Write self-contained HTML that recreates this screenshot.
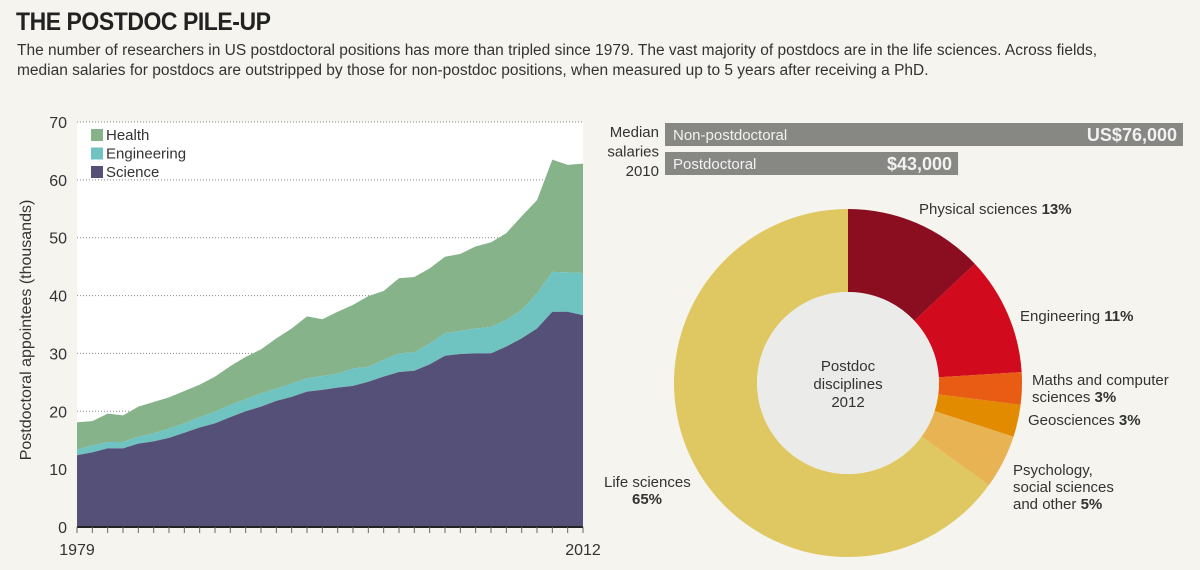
<!DOCTYPE html>
<html><head><meta charset="utf-8">
<style>
body{margin:0;background:#f5f4ee;font-family:"Liberation Sans",sans-serif;}
#root{position:relative;width:1200px;height:570px;overflow:hidden;background:#f5f4ee;}
.t{position:absolute;color:#222;}
</style></head>
<body>
<div id="root">
<div class="t" style="left:16px;top:8px;font-size:25px;font-weight:bold;letter-spacing:-0.5px;transform:scaleX(0.92);transform-origin:left;">THE POSTDOC PILE-UP</div>
<div class="t" style="left:17px;top:41px;width:1130px;font-size:15.5px;line-height:20px;color:#333;">The number of researchers in US postdoctoral positions has more than tripled since 1979. The vast majority of postdocs are in the life sciences. Across fields, median salaries for postdocs are outstripped by those for non-postdoc positions, when measured up to 5 years after receiving a PhD.</div>
<svg id="chart" width="1200" height="570" style="position:absolute;left:0;top:0"></svg>
</div>
<script>
const years=[];for(let y=1979;y<=2012;y++)years.push(y);
const science=[12.4,12.9,13.6,13.6,14.4,14.8,15.4,16.3,17.2,17.9,19.0,20.0,20.8,21.8,22.5,23.4,23.7,24.1,24.4,25.1,26.0,26.8,27.0,28.1,29.6,29.9,30.0,30.0,31.2,32.6,34.3,37.2,37.2,36.6];
const engineering=[1.0,1.2,1.1,1.1,1.2,1.4,1.6,1.6,1.8,2.0,2.1,2.1,2.3,2.1,2.3,2.3,2.4,2.4,3.0,2.6,2.9,3.2,3.2,3.6,3.9,4.0,4.3,4.6,4.6,4.9,6.1,6.9,6.8,7.3];
const health=[4.7,4.2,4.9,4.6,5.2,5.4,5.4,5.6,5.6,6.1,6.7,7.3,7.6,8.7,9.5,10.7,9.8,10.7,11.0,12.2,11.9,13.0,13.0,13.0,13.2,13.3,14.2,14.6,15.0,16.2,16.1,19.4,18.6,18.9];
const yTicks=[0,10,20,30,40,50,60,70];
const salaryLabels=["Non-postdoctoral","Postdoctoral"];
const salaryValues=[76000,43000];
const salaryText=["US$76,000","$43,000"];
const shareLabels=["Physical sciences","Engineering","Maths and computer sciences","Geosciences","Psychology, social sciences and other","Life sciences"];
const shareValues=[13,11,3,3,5,65];
const shareColors=["#8a0d20","#d20a1d","#e85c14","#e28a00","#e8b352","#dfc862"];

const NS="http://www.w3.org/2000/svg";
const svg=document.getElementById('chart');
function mk(tag,attrs,parent){const e=document.createElementNS(NS,tag);for(const k in attrs)e.setAttribute(k,attrs[k]);(parent||svg).appendChild(e);return e;}
const X0=77,X1=583,Y0=527,Y1=122;
const xs=i=>X0+(X1-X0)*(years[i]-years[0])/(years[years.length-1]-years[0]);
const ys=v=>Y0-(Y0-Y1)*v/70;
const plotBg=mk('rect',{x:X0,y:Y1,width:X1-X0,height:Y0-Y1,fill:'#ffffff'});


yTicks.forEach(t=>{
  const l=mk('line',{x1:X0,x2:X1,y1:ys(t),y2:ys(t),stroke:'#888','stroke-width':1,'stroke-dasharray':'1,2'});
  
  
  const tx=mk('text',{x:67,y:ys(t)+6,'text-anchor':'end','font-size':16,fill:'#333','font-family':'Liberation Sans'});
  tx.textContent=t;
  
  
});
const s1=science, s2=science.map((v,i)=>v+engineering[i]), s3=s2.map((v,i)=>v+health[i]);
function area(top,bot,color,name){
  let d='M'+years.map((_,i)=>xs(i)+','+ys(top[i])).join('L');
  for(let i=years.length-1;i>=0;i--)d+='L'+xs(i)+','+ys(bot?bot[i]:0);
  const p=mk('path',{d:d+'Z',fill:color});
  
  
}
area(s3,s2,'#86b38a','health-area');
area(s2,s1,'#6fc3c1','engineering-area');
area(s1,null,'#555078','science-area');
const ax=mk('line',{x1:X0,x2:X1,y1:Y0,y2:Y0,stroke:'#222','stroke-width':2});


years.forEach((_,i)=>{const tk=mk('line',{x1:xs(i),x2:xs(i),y1:Y0,y2:Y0+6,stroke:'#666','stroke-width':1});

});
[[0,'1979'],[years.length-1,'2012']].forEach(([i,s])=>{const t=mk('text',{x:xs(i),y:555,'text-anchor':'middle','font-size':16,fill:'#333','font-family':'Liberation Sans'});t.textContent=s;

});
const yt=mk('text',{x:0,y:0,transform:'translate(31,330) rotate(-90)','text-anchor':'middle','font-size':16,fill:'#333','font-family':'Liberation Sans'});
yt.textContent='Postdoctoral appointees (thousands)';


[['Health','#86b38a'],['Engineering','#6fc3c1'],['Science','#555078']].forEach((e,i)=>{
  const g=mk('g',{});
  
  
  mk('rect',{x:91,y:129+i*18.5,width:12,height:12,fill:e[1]},g);
  const t=mk('text',{x:106,y:140+i*18.5,'font-size':15,fill:'#333','font-family':'Liberation Sans'},g);t.textContent=e[0];
});
const BX=665,BW=1183-665;
const sl=mk('text',{x:659,y:137,'text-anchor':'end','font-size':15,fill:'#333','font-family':'Liberation Sans'});


['Median','salaries','2010'].forEach((s,i)=>{const ts=mk('tspan',{x:659,dy:i?19.5:0},sl);ts.textContent=s;});
salaryValues.forEach((v,i)=>{
  const w=BW*v/salaryValues[0],y=123+i*29;
  const r=mk('rect',{x:BX,y:y,width:w,height:23,fill:'#878784'});
  
  
  const t=mk('text',{x:BX+8,y:y+17,'font-size':15,fill:'#f2f2f2','font-family':'Liberation Sans'});t.textContent=salaryLabels[i];
  
  
  const t2=mk('text',{x:BX+w-6,y:y+18,'text-anchor':'end','font-size':18,'font-weight':'bold',fill:'#f2f2f2','font-family':'Liberation Sans Narrow, Liberation Sans'});t2.textContent=salaryText[i];
  
  
});
const CX=848,CY=383,R=174,RI=91;
const tot=shareValues.reduce((a,b)=>a+b,0);
let acc=0;
shareValues.forEach((v,i)=>{
  const a0=acc/tot*2*Math.PI,a1=(acc+v)/tot*2*Math.PI;acc+=v;
  const p=(a,r)=>[CX+r*Math.sin(a),CY-r*Math.cos(a)];
  const [x0,y0]=p(a0,R),[x1,y1]=p(a1,R),[x2,y2]=p(a1,RI),[x3,y3]=p(a0,RI);
  const lg=(a1-a0)>Math.PI?1:0;
  const path=mk('path',{d:`M${x0},${y0}A${R},${R} 0 ${lg} 1 ${x1},${y1}L${x2},${y2}A${RI},${RI} 0 ${lg} 0 ${x3},${y3}Z`,fill:shareColors[i]});
  
  
});
const ci=mk('circle',{cx:CX,cy:CY,r:RI,fill:'#ebebe9'});


const ct=mk('text',{x:CX,y:371,'text-anchor':'middle','font-size':15,fill:'#333','font-family':'Liberation Sans'});


['Postdoc','disciplines','2012'].forEach((s,i)=>{const ts=mk('tspan',{x:CX,dy:i?18:0},ct);ts.textContent=s;});
const labelPos=[[919,214],[1020,321],[1032,385],[1028,425],[1013,475],[604,487]];
const lines=[["Physical sciences "],["Engineering "],["Maths and computer","sciences "],["Geosciences "],["Psychology,","social sciences","and other "],["Life sciences"]];
labelPos.forEach((lp,i)=>{
  const t=mk('text',{x:lp[0],y:lp[1],'font-size':15,fill:'#333','font-family':'Liberation Sans'});
  
  
  lines[i].forEach((s,j)=>{
    const ts=mk('tspan',{x:lp[0],dy:j?17:0},t);ts.textContent=s;
  });
  const b=mk('tspan',{'font-weight':'bold'},t);b.textContent=shareValues[i]+'%';
  if(i===5){b.setAttribute('x',632);b.setAttribute('dy',17);}
});
</script>
</body></html>
